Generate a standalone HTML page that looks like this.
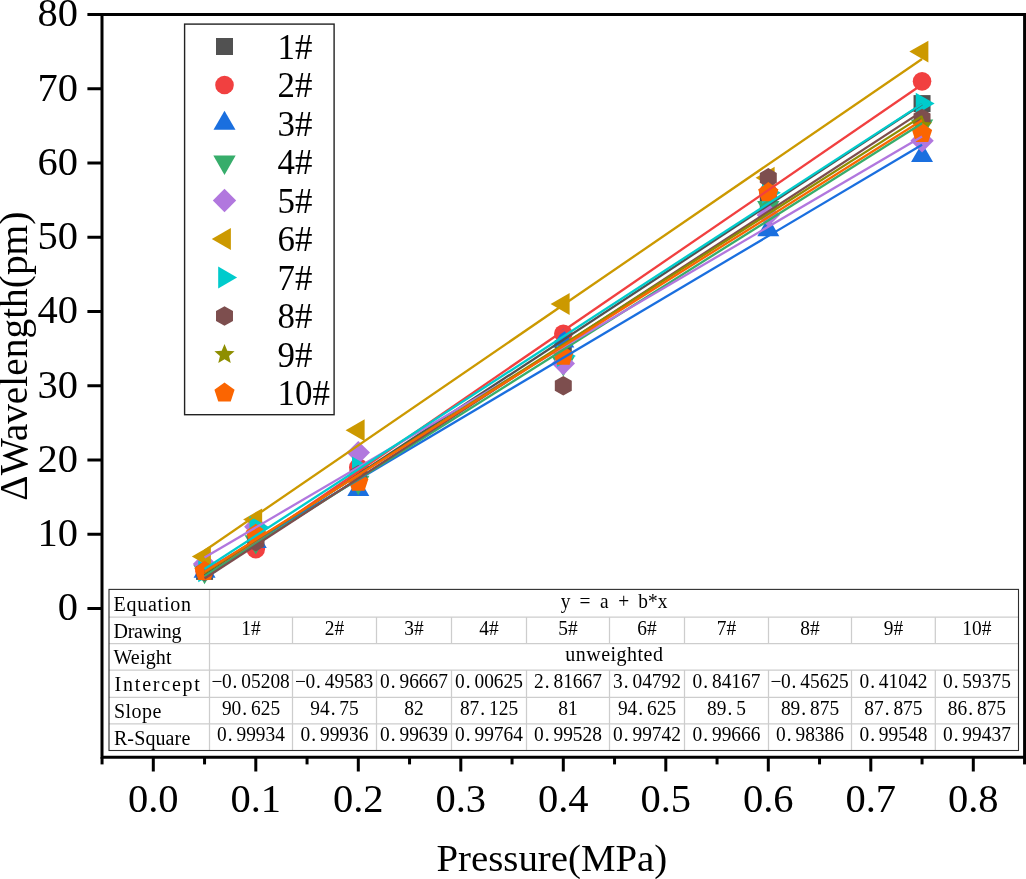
<!DOCTYPE html><html><head><meta charset="utf-8"><style>html,body{margin:0;padding:0;background:#fff;}svg{display:block}.s{font-family:"Liberation Serif","Times New Roman",serif;fill:#000}.t{font-family:"Liberation Serif","Noto Serif CJK SC",serif;fill:#000}</style></head><body>
<svg width="1026" height="879" viewBox="0 0 1026 879">
<rect width="1026" height="879" fill="#fff"/>
<g>
<rect x="196.05" y="562.88" width="17" height="17" fill="#515151"/>
<rect x="247.3" y="533.17" width="17" height="17" fill="#515151"/>
<rect x="349.8" y="466.35" width="17" height="17" fill="#515151"/>
<rect x="554.8" y="340.12" width="17" height="17" fill="#515151"/>
<rect x="759.8" y="191.62" width="17" height="17" fill="#515151"/>
<rect x="913.55" y="95.1" width="17" height="17" fill="#515151"/>
<circle cx="204.55" cy="571.38" r="9.3" fill="#F14040"/>
<circle cx="255.8" cy="549.1" r="9.3" fill="#F14040"/>
<circle cx="358.3" cy="467.43" r="9.3" fill="#F14040"/>
<circle cx="563.3" cy="333.78" r="9.3" fill="#F14040"/>
<circle cx="768.3" cy="192.7" r="9.3" fill="#F14040"/>
<circle cx="922.05" cy="81.33" r="9.3" fill="#F14040"/>
<polygon points="204.55,558.67 215.55,577.73 193.55,577.73" fill="#1A6FDF"/>
<polygon points="255.8,528.97 266.8,548.02 244.8,548.02" fill="#1A6FDF"/>
<polygon points="358.3,477 369.3,496.05 347.3,496.05" fill="#1A6FDF"/>
<polygon points="563.3,328.5 574.3,347.55 552.3,347.55" fill="#1A6FDF"/>
<polygon points="768.3,217.12 779.3,236.17 757.3,236.17" fill="#1A6FDF"/>
<polygon points="922.05,142.88 933.05,161.92 911.05,161.92" fill="#1A6FDF"/>
<polygon points="204.55,584.27 193.38,564.92 215.72,564.92" fill="#37AD6B"/>
<polygon points="255.8,554.57 244.63,535.22 266.97,535.22" fill="#37AD6B"/>
<polygon points="358.3,495.17 347.13,475.82 369.47,475.82" fill="#37AD6B"/>
<polygon points="563.3,376.38 552.13,357.03 574.47,357.03" fill="#37AD6B"/>
<polygon points="768.3,220.45 757.13,201.1 779.47,201.1" fill="#37AD6B"/>
<polygon points="922.05,138.78 910.88,119.42 933.22,119.42" fill="#37AD6B"/>
<polygon points="204.55,552.25 216.25,563.95 204.55,575.65 192.85,563.95" fill="#B177DE"/>
<polygon points="255.8,515.12 267.5,526.83 255.8,538.53 244.1,526.83" fill="#B177DE"/>
<polygon points="358.3,440.88 370,452.58 358.3,464.28 346.6,452.58" fill="#B177DE"/>
<polygon points="563.3,351.78 575,363.48 563.3,375.18 551.6,363.48" fill="#B177DE"/>
<polygon points="768.3,203.28 780,214.98 768.3,226.68 756.6,214.98" fill="#B177DE"/>
<polygon points="922.05,129.03 933.75,140.73 922.05,152.43 910.35,140.73" fill="#B177DE"/>
<polygon points="191.85,556.52 210.9,545.53 210.9,567.52" fill="#CC9900"/>
<polygon points="243.1,519.4 262.15,508.4 262.15,530.4" fill="#CC9900"/>
<polygon points="345.6,430.3 364.65,419.3 364.65,441.3" fill="#CC9900"/>
<polygon points="550.6,304.07 569.65,293.08 569.65,315.07" fill="#CC9900"/>
<polygon points="755.6,177.85 774.65,166.85 774.65,188.85" fill="#CC9900"/>
<polygon points="909.35,51.62 928.4,40.63 928.4,62.62" fill="#CC9900"/>
<polygon points="217.15,571.38 198.25,582.29 198.25,560.46" fill="#00CBCC"/>
<polygon points="268.4,526.83 249.5,537.74 249.5,515.91" fill="#00CBCC"/>
<polygon points="370.9,467.43 352,478.34 352,456.51" fill="#00CBCC"/>
<polygon points="575.9,356.05 557,366.96 557,345.14" fill="#00CBCC"/>
<polygon points="780.9,192.7 762,203.61 762,181.79" fill="#00CBCC"/>
<polygon points="934.65,103.6 915.75,114.51 915.75,92.69" fill="#00CBCC"/>
<polygon points="204.55,561.58 213.04,566.48 213.04,576.27 204.55,581.17 196.06,576.27 196.06,566.48" fill="#7D4E4E"/>
<polygon points="255.8,531.88 264.29,536.77 264.29,546.57 255.8,551.47 247.31,546.57 247.31,536.77" fill="#7D4E4E"/>
<polygon points="358.3,465.05 366.79,469.95 366.79,479.75 358.3,484.65 349.81,479.75 349.81,469.95" fill="#7D4E4E"/>
<polygon points="563.3,375.95 571.79,380.85 571.79,390.65 563.3,395.55 554.81,390.65 554.81,380.85" fill="#7D4E4E"/>
<polygon points="768.3,168.05 776.79,172.95 776.79,182.75 768.3,187.65 759.81,182.75 759.81,172.95" fill="#7D4E4E"/>
<polygon points="922.05,108.65 930.54,113.55 930.54,123.35 922.05,128.25 913.56,123.35 913.56,113.55" fill="#7D4E4E"/>
<polygon points="204.55,560.77 207.35,567.52 214.63,568.1 209.09,572.85 210.78,579.95 204.55,576.14 198.32,579.95 200.01,572.85 194.47,568.1 201.75,567.52" fill="#8E8E00"/>
<polygon points="255.8,523.65 258.6,530.39 265.88,530.97 260.34,535.72 262.03,542.83 255.8,539.02 249.57,542.83 251.26,535.72 245.72,530.97 253,530.39" fill="#8E8E00"/>
<polygon points="358.3,471.67 361.1,478.42 368.38,479 362.84,483.75 364.53,490.85 358.3,487.04 352.07,490.85 353.76,483.75 348.22,479 355.5,478.42" fill="#8E8E00"/>
<polygon points="563.3,345.45 566.1,352.19 573.38,352.77 567.84,357.52 569.53,364.63 563.3,360.82 557.07,364.63 558.76,357.52 553.22,352.77 560.5,352.19" fill="#8E8E00"/>
<polygon points="768.3,182.1 771.1,188.84 778.38,189.42 772.84,194.17 774.53,201.28 768.3,197.47 762.07,201.28 763.76,194.17 758.22,189.42 765.5,188.84" fill="#8E8E00"/>
<polygon points="922.05,115.28 924.85,122.02 932.13,122.6 926.59,127.35 928.28,134.45 922.05,130.65 915.82,134.45 917.51,127.35 911.97,122.6 919.25,122.02" fill="#8E8E00"/>
<polygon points="204.55,560.77 214.63,568.1 210.78,579.95 198.32,579.95 194.47,568.1" fill="#FB6501"/>
<polygon points="255.8,523.65 265.88,530.97 262.03,542.83 249.57,542.83 245.72,530.97" fill="#FB6501"/>
<polygon points="358.3,471.67 368.38,479 364.53,490.85 352.07,490.85 348.22,479" fill="#FB6501"/>
<polygon points="563.3,345.45 573.38,352.77 569.53,364.63 557.07,364.63 553.22,352.77" fill="#FB6501"/>
<polygon points="768.3,182.1 778.38,189.42 774.53,201.28 762.07,201.28 758.22,189.42" fill="#FB6501"/>
<polygon points="922.05,122.7 932.13,130.02 928.28,141.88 915.82,141.88 911.97,130.02" fill="#FB6501"/>
</g>
<g stroke-width="2.3" stroke-linecap="butt" fill="none">
<line x1="204.55" y1="575.24" x2="922.05" y2="104.22" stroke="#515151"/>
<line x1="204.55" y1="577.01" x2="922.05" y2="84.54" stroke="#F14040"/>
<line x1="204.55" y1="570.88" x2="922.05" y2="144.68" stroke="#1A6FDF"/>
<line x1="204.55" y1="576.11" x2="922.05" y2="123.28" stroke="#37AD6B"/>
<line x1="204.55" y1="557.51" x2="922.05" y2="136.52" stroke="#B177DE"/>
<line x1="204.55" y1="550.74" x2="922.05" y2="58.93" stroke="#CC9900"/>
<line x1="204.55" y1="569.02" x2="922.05" y2="103.85" stroke="#00CBCC"/>
<line x1="204.55" y1="578.52" x2="922.05" y2="111.4" stroke="#7D4E4E"/>
<line x1="204.55" y1="572.83" x2="922.05" y2="116.1" stroke="#8E8E00"/>
<line x1="204.55" y1="571.84" x2="922.05" y2="120.31" stroke="#FB6501"/>
</g>
<rect x="184.6" y="24.1" width="149.5" height="390.6" fill="none" stroke="#222" stroke-width="1.4"/>
<rect x="216" y="38" width="17" height="17" fill="#515151"/>
<text class="s" transform="translate(277.6,58.9) scale(0.97,1)" font-size="36">1#</text>
<circle cx="224.5" cy="85" r="9.3" fill="#F14040"/>
<text class="s" transform="translate(277.6,97.4) scale(0.97,1)" font-size="36">2#</text>
<polygon points="224.5,110.8 235.5,129.85 213.5,129.85" fill="#1A6FDF"/>
<text class="s" transform="translate(277.6,135.9) scale(0.97,1)" font-size="36">3#</text>
<polygon points="224.5,174.9 213.33,155.55 235.67,155.55" fill="#37AD6B"/>
<text class="s" transform="translate(277.6,174.4) scale(0.97,1)" font-size="36">4#</text>
<polygon points="224.5,188.8 236.2,200.5 224.5,212.2 212.8,200.5" fill="#B177DE"/>
<text class="s" transform="translate(277.6,212.9) scale(0.97,1)" font-size="36">5#</text>
<polygon points="211.8,239 230.85,228 230.85,250" fill="#CC9900"/>
<text class="s" transform="translate(277.6,251.4) scale(0.97,1)" font-size="36">6#</text>
<polygon points="237.1,277.5 218.2,288.41 218.2,266.59" fill="#00CBCC"/>
<text class="s" transform="translate(277.6,289.9) scale(0.97,1)" font-size="36">7#</text>
<polygon points="224.5,306.2 232.99,311.1 232.99,320.9 224.5,325.8 216.01,320.9 216.01,311.1" fill="#7D4E4E"/>
<text class="s" transform="translate(277.6,328.4) scale(0.97,1)" font-size="36">8#</text>
<polygon points="224.5,343.9 227.3,350.64 234.58,351.22 229.04,355.97 230.73,363.08 224.5,359.27 218.27,363.08 219.96,355.97 214.42,351.22 221.7,350.64" fill="#8E8E00"/>
<text class="s" transform="translate(277.6,366.9) scale(0.97,1)" font-size="36">9#</text>
<polygon points="224.5,382.4 234.58,389.72 230.73,401.58 218.27,401.58 214.42,389.72" fill="#FB6501"/>
<text class="s" transform="translate(277.6,405.4) scale(0.97,1)" font-size="36">10#</text>
<rect x="109.0" y="589.4" width="909.5" height="161.1" fill="#fff"/>
<g stroke="#cdcdcd" stroke-width="1.25"><line x1="109.0" y1="617.2" x2="1018.5" y2="617.2"/><line x1="109.0" y1="643.7" x2="1018.5" y2="643.7"/><line x1="109.0" y1="670.0" x2="1018.5" y2="670.0"/><line x1="109.0" y1="697.4" x2="1018.5" y2="697.4"/><line x1="109.0" y1="723.9" x2="1018.5" y2="723.9"/><line x1="209.5" y1="589.4" x2="209.5" y2="750.5"/><line x1="292.5" y1="617.2" x2="292.5" y2="643.7"/><line x1="292.5" y1="670.0" x2="292.5" y2="750.5"/><line x1="376.5" y1="617.2" x2="376.5" y2="643.7"/><line x1="376.5" y1="670.0" x2="376.5" y2="750.5"/><line x1="451.5" y1="617.2" x2="451.5" y2="643.7"/><line x1="451.5" y1="670.0" x2="451.5" y2="750.5"/><line x1="526.5" y1="617.2" x2="526.5" y2="643.7"/><line x1="526.5" y1="670.0" x2="526.5" y2="750.5"/><line x1="609.5" y1="617.2" x2="609.5" y2="643.7"/><line x1="609.5" y1="670.0" x2="609.5" y2="750.5"/><line x1="684.5" y1="617.2" x2="684.5" y2="643.7"/><line x1="684.5" y1="670.0" x2="684.5" y2="750.5"/><line x1="768.5" y1="617.2" x2="768.5" y2="643.7"/><line x1="768.5" y1="670.0" x2="768.5" y2="750.5"/><line x1="851.5" y1="617.2" x2="851.5" y2="643.7"/><line x1="851.5" y1="670.0" x2="851.5" y2="750.5"/><line x1="935.3" y1="617.2" x2="935.3" y2="643.7"/><line x1="935.3" y1="670.0" x2="935.3" y2="750.5"/></g>
<rect x="109.0" y="589.4" width="909.5" height="161.1" fill="none" stroke="#2e2e2e" stroke-width="1.1"/>
<text class="t" x="113.6" y="610.8" font-size="20" textLength="77.3" lengthAdjust="spacing">Equation</text>
<text class="t" x="113.6" y="637.95" font-size="20" textLength="67.8" lengthAdjust="spacing">Drawing</text>
<text class="t" x="113.4" y="664.35" font-size="20" textLength="58.2" lengthAdjust="spacing">Weight</text>
<text class="t" x="114.6" y="691.2" font-size="20" textLength="85.3" lengthAdjust="spacing">Intercept</text>
<text class="t" x="113.9" y="718.15" font-size="20" textLength="47.5" lengthAdjust="spacing">Slope</text>
<text class="t" x="113.9" y="744.7" font-size="20" textLength="76.4" lengthAdjust="spacing">R-Square</text>
<text class="t" transform="scale(0.97,1)" x="577.99 587.99 597.35 607.99 618.55 627.99 637.35 647.99 657.99 667.99 677.99" y="607.8" font-size="20">y = a + b*x</text>
<text class="t" x="565.3" y="660.85" font-size="20" textLength="97.6" lengthAdjust="spacing">unweighted</text>
<text class="t" transform="scale(0.97,1)" x="248.76 258.76" y="635.35" font-size="20">1#</text>
<text class="t" transform="scale(0.97,1)" x="334.85 344.85" y="635.35" font-size="20">2#</text>
<text class="t" transform="scale(0.97,1)" x="416.8 426.8" y="635.35" font-size="20">3#</text>
<text class="t" transform="scale(0.97,1)" x="494.12 504.12" y="635.35" font-size="20">4#</text>
<text class="t" transform="scale(0.97,1)" x="575.57 585.57" y="635.35" font-size="20">5#</text>
<text class="t" transform="scale(0.97,1)" x="657.01 667.01" y="635.35" font-size="20">6#</text>
<text class="t" transform="scale(0.97,1)" x="738.97 748.97" y="635.35" font-size="20">7#</text>
<text class="t" transform="scale(0.97,1)" x="825.05 835.05" y="635.35" font-size="20">8#</text>
<text class="t" transform="scale(0.97,1)" x="911.03 921.03" y="635.35" font-size="20">9#</text>
<text class="t" transform="scale(0.97,1)" x="992.11 1002.11 1012.11" y="635.35" font-size="20">10#</text>
<text class="t" transform="scale(0.97,1)" x="218.12 228.76 239.79 248.76 258.76 268.76 278.76 288.76" y="687.7" font-size="20">−0.05208</text>
<text class="t" transform="scale(0.97,1)" x="304.21 314.85 325.88 334.85 344.85 354.85 364.85 374.85" y="687.7" font-size="20">−0.49583</text>
<text class="t" transform="scale(0.97,1)" x="391.8 402.84 411.8 421.8 431.8 441.8 451.8" y="687.7" font-size="20">0.96667</text>
<text class="t" transform="scale(0.97,1)" x="469.12 480.15 489.12 499.12 509.12 519.12 529.12" y="687.7" font-size="20">0.00625</text>
<text class="t" transform="scale(0.97,1)" x="550.57 561.6 570.57 580.57 590.57 600.57 610.57" y="687.7" font-size="20">2.81667</text>
<text class="t" transform="scale(0.97,1)" x="632.01 643.04 652.01 662.01 672.01 682.01 692.01" y="687.7" font-size="20">3.04792</text>
<text class="t" transform="scale(0.97,1)" x="713.97 725 733.97 743.97 753.97 763.97 773.97" y="687.7" font-size="20">0.84167</text>
<text class="t" transform="scale(0.97,1)" x="794.41 805.05 816.08 825.05 835.05 845.05 855.05 865.05" y="687.7" font-size="20">−0.45625</text>
<text class="t" transform="scale(0.97,1)" x="886.03 897.06 906.03 916.03 926.03 936.03 946.03" y="687.7" font-size="20">0.41042</text>
<text class="t" transform="scale(0.97,1)" x="972.11 983.14 992.11 1002.11 1012.11 1022.11 1032.11" y="687.7" font-size="20">0.59375</text>
<text class="t" transform="scale(0.97,1)" x="228.76 238.76 249.79 258.76 268.76 278.76" y="714.65" font-size="20">90.625</text>
<text class="t" transform="scale(0.97,1)" x="319.85 329.85 340.88 349.85 359.85" y="714.65" font-size="20">94.75</text>
<text class="t" transform="scale(0.97,1)" x="416.8 426.8" y="714.65" font-size="20">82</text>
<text class="t" transform="scale(0.97,1)" x="474.12 484.12 495.15 504.12 514.12 524.12" y="714.65" font-size="20">87.125</text>
<text class="t" transform="scale(0.97,1)" x="575.57 585.57" y="714.65" font-size="20">81</text>
<text class="t" transform="scale(0.97,1)" x="637.01 647.01 658.04 667.01 677.01 687.01" y="714.65" font-size="20">94.625</text>
<text class="t" transform="scale(0.97,1)" x="728.97 738.97 750 758.97" y="714.65" font-size="20">89.5</text>
<text class="t" transform="scale(0.97,1)" x="805.05 815.05 826.08 835.05 845.05 855.05" y="714.65" font-size="20">89.875</text>
<text class="t" transform="scale(0.97,1)" x="891.03 901.03 912.06 921.03 931.03 941.03" y="714.65" font-size="20">87.875</text>
<text class="t" transform="scale(0.97,1)" x="977.11 987.11 998.14 1007.11 1017.11 1027.11" y="714.65" font-size="20">86.875</text>
<text class="t" transform="scale(0.97,1)" x="223.76 234.79 243.76 253.76 263.76 273.76 283.76" y="741.2" font-size="20">0.99934</text>
<text class="t" transform="scale(0.97,1)" x="309.85 320.88 329.85 339.85 349.85 359.85 369.85" y="741.2" font-size="20">0.99936</text>
<text class="t" transform="scale(0.97,1)" x="391.8 402.84 411.8 421.8 431.8 441.8 451.8" y="741.2" font-size="20">0.99639</text>
<text class="t" transform="scale(0.97,1)" x="469.12 480.15 489.12 499.12 509.12 519.12 529.12" y="741.2" font-size="20">0.99764</text>
<text class="t" transform="scale(0.97,1)" x="550.57 561.6 570.57 580.57 590.57 600.57 610.57" y="741.2" font-size="20">0.99528</text>
<text class="t" transform="scale(0.97,1)" x="632.01 643.04 652.01 662.01 672.01 682.01 692.01" y="741.2" font-size="20">0.99742</text>
<text class="t" transform="scale(0.97,1)" x="713.97 725 733.97 743.97 753.97 763.97 773.97" y="741.2" font-size="20">0.99666</text>
<text class="t" transform="scale(0.97,1)" x="800.05 811.08 820.05 830.05 840.05 850.05 860.05" y="741.2" font-size="20">0.98386</text>
<text class="t" transform="scale(0.97,1)" x="886.03 897.06 906.03 916.03 926.03 936.03 946.03" y="741.2" font-size="20">0.99548</text>
<text class="t" transform="scale(0.97,1)" x="972.11 983.14 992.11 1002.11 1012.11 1022.11 1032.11" y="741.2" font-size="20">0.99437</text>
<path d="M102.0 14.4H1024.6V757.2H102.0Z" fill="none" stroke="#000" stroke-width="3"/><line x1="87.4" y1="608.5" x2="102.0" y2="608.5" stroke="#000" stroke-width="3"/><text class="s" transform="translate(77.9,620.3)" font-size="40.5" text-anchor="end">0</text><line x1="87.4" y1="534.25" x2="102.0" y2="534.25" stroke="#000" stroke-width="3"/><text class="s" transform="translate(77.9,546.05)" font-size="40.5" text-anchor="end">10</text><line x1="87.4" y1="460" x2="102.0" y2="460" stroke="#000" stroke-width="3"/><text class="s" transform="translate(77.9,471.8)" font-size="40.5" text-anchor="end">20</text><line x1="87.4" y1="385.75" x2="102.0" y2="385.75" stroke="#000" stroke-width="3"/><text class="s" transform="translate(77.9,397.55)" font-size="40.5" text-anchor="end">30</text><line x1="87.4" y1="311.5" x2="102.0" y2="311.5" stroke="#000" stroke-width="3"/><text class="s" transform="translate(77.9,323.3)" font-size="40.5" text-anchor="end">40</text><line x1="87.4" y1="237.25" x2="102.0" y2="237.25" stroke="#000" stroke-width="3"/><text class="s" transform="translate(77.9,249.05)" font-size="40.5" text-anchor="end">50</text><line x1="87.4" y1="163" x2="102.0" y2="163" stroke="#000" stroke-width="3"/><text class="s" transform="translate(77.9,174.8)" font-size="40.5" text-anchor="end">60</text><line x1="87.4" y1="88.75" x2="102.0" y2="88.75" stroke="#000" stroke-width="3"/><text class="s" transform="translate(77.9,100.55)" font-size="40.5" text-anchor="end">70</text><line x1="87.4" y1="14.5" x2="102.0" y2="14.5" stroke="#000" stroke-width="3"/><text class="s" transform="translate(77.9,26.3)" font-size="40.5" text-anchor="end">80</text><line x1="102.05" y1="757.2" x2="102.05" y2="764.4" stroke="#000" stroke-width="3"/><line x1="153.3" y1="757.2" x2="153.3" y2="771.5" stroke="#000" stroke-width="3"/><text class="s" transform="translate(153.3,812.2)" font-size="40.5" text-anchor="middle">0.0</text><line x1="204.55" y1="757.2" x2="204.55" y2="764.4" stroke="#000" stroke-width="3"/><line x1="255.8" y1="757.2" x2="255.8" y2="771.5" stroke="#000" stroke-width="3"/><text class="s" transform="translate(255.8,812.2)" font-size="40.5" text-anchor="middle">0.1</text><line x1="307.05" y1="757.2" x2="307.05" y2="764.4" stroke="#000" stroke-width="3"/><line x1="358.3" y1="757.2" x2="358.3" y2="771.5" stroke="#000" stroke-width="3"/><text class="s" transform="translate(358.3,812.2)" font-size="40.5" text-anchor="middle">0.2</text><line x1="409.55" y1="757.2" x2="409.55" y2="764.4" stroke="#000" stroke-width="3"/><line x1="460.8" y1="757.2" x2="460.8" y2="771.5" stroke="#000" stroke-width="3"/><text class="s" transform="translate(460.8,812.2)" font-size="40.5" text-anchor="middle">0.3</text><line x1="512.05" y1="757.2" x2="512.05" y2="764.4" stroke="#000" stroke-width="3"/><line x1="563.3" y1="757.2" x2="563.3" y2="771.5" stroke="#000" stroke-width="3"/><text class="s" transform="translate(563.3,812.2)" font-size="40.5" text-anchor="middle">0.4</text><line x1="614.55" y1="757.2" x2="614.55" y2="764.4" stroke="#000" stroke-width="3"/><line x1="665.8" y1="757.2" x2="665.8" y2="771.5" stroke="#000" stroke-width="3"/><text class="s" transform="translate(665.8,812.2)" font-size="40.5" text-anchor="middle">0.5</text><line x1="717.05" y1="757.2" x2="717.05" y2="764.4" stroke="#000" stroke-width="3"/><line x1="768.3" y1="757.2" x2="768.3" y2="771.5" stroke="#000" stroke-width="3"/><text class="s" transform="translate(768.3,812.2)" font-size="40.5" text-anchor="middle">0.6</text><line x1="819.55" y1="757.2" x2="819.55" y2="764.4" stroke="#000" stroke-width="3"/><line x1="870.8" y1="757.2" x2="870.8" y2="771.5" stroke="#000" stroke-width="3"/><text class="s" transform="translate(870.8,812.2)" font-size="40.5" text-anchor="middle">0.7</text><line x1="922.05" y1="757.2" x2="922.05" y2="764.4" stroke="#000" stroke-width="3"/><line x1="973.3" y1="757.2" x2="973.3" y2="771.5" stroke="#000" stroke-width="3"/><text class="s" transform="translate(973.3,812.2)" font-size="40.5" text-anchor="middle">0.8</text><line x1="1024.55" y1="757.2" x2="1024.55" y2="764.4" stroke="#000" stroke-width="3"/>
<text class="s" transform="translate(436.4,871.4) scale(1.05,1)" font-size="37">Pressure(MPa)</text>
<text class="s" transform="translate(27,500.7) rotate(-90)" x="0" y="0" font-size="39.4">ΔWavelength(pm)</text>
</svg></body></html>
